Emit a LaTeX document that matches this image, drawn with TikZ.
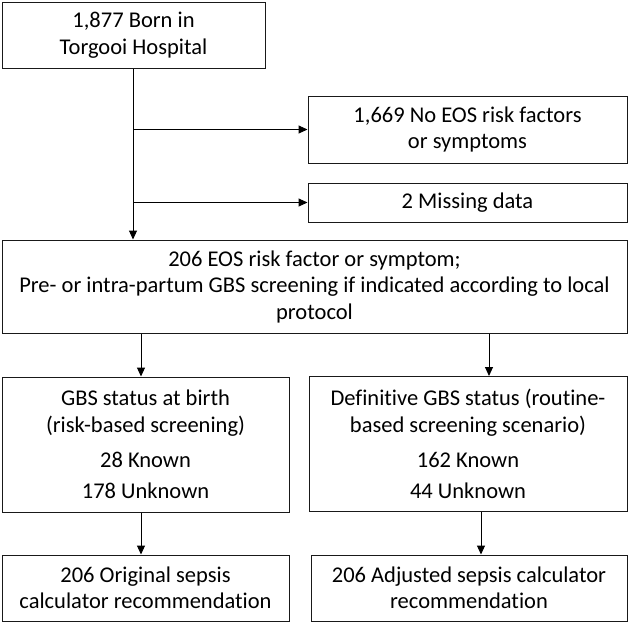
\documentclass[tikz,border=0pt]{standalone}
\usepackage{fontspec}
\setmainfont{Carlito}[Ligatures=NoCommon]
\usetikzlibrary{arrows.meta, positioning, calc}
\tikzset{
  fbox/.style={
    rectangle, draw=black!90, line width=1pt, fill=white, align=center,
    inner sep=0pt, font=\fontsize{22.5}{26.5}\selectfont},
  farr/.style={-{Triangle[length=9pt,width=8pt]}, line width=1pt, draw=black},
}

\begin{document}
\begin{tikzpicture}[x=1pt, y=-1pt]
  \useasboundingbox (0,0) rectangle (629,622);
  %% Top: births
  \node[fbox, minimum width=263pt, minimum height=66pt] (born) at (133.5,35)
        {1,877 Born in\\Torgooi Hospital};
  %% Exclusions
  \node[fbox, minimum width=319pt, minimum height=67pt] (nors) at (467.5,129.5)
        {1,669 No EOS risk factors\\or symptoms};
  \node[fbox, minimum width=319pt, minimum height=39pt] (miss) at (467.5,202.5)
        {2 Missing data};
  %% Included
  \node[fbox, minimum width=625pt, minimum height=93pt] (eos) at (314.5,286.5)
        {206 EOS risk factor or symptom;\\
         Pre- or intra-partum GBS screening if indicated according to local\\
         protocol};
  %% GBS status
  \node[fbox, minimum width=287pt, minimum height=135pt] (gbsb) at (145.5,444.5)
        {GBS status at birth\\(risk-based screening)\\[9pt]
         28 Known\\[4pt]178 Unknown};
  \node[fbox, minimum width=318pt, minimum height=135pt] (gbsd) at (468,444)
        {Definitive GBS status (routine-\\based screening scenario)\\[9pt]
         162 Known\\[4pt]44 Unknown};
  %% Calculator
  \node[fbox, minimum width=287pt, minimum height=66pt] (orig) at (145.5,588)
        {206 Original sepsis\\calculator recommendation};
  \node[fbox, minimum width=316pt, minimum height=66pt] (adj) at (469,588)
        {206 Adjusted sepsis calculator\\recommendation};
  %% Arrows
  \draw[farr] ([xshift=-0.5pt]born.south) -- ([xshift=-0.5pt]born.south |- eos.north);
  \draw[farr] ([xshift=-0.5pt]born.south |- nors.west) -- (nors.west);
  \draw[farr] ([xshift=-0.5pt]born.south |- miss.west) -- (miss.west);
  \draw[farr] ([xshift=-4.5pt]gbsb.north |- eos.south) -- ([xshift=-4.5pt]gbsb.north);
  \draw[farr] ([xshift=21pt]gbsd.north |- eos.south) -- ([xshift=21pt]gbsd.north);
  \draw[farr] ([xshift=-4.5pt]gbsb.south) -- ([xshift=-4.5pt]gbsb.south |- orig.north);
  \draw[farr] ([xshift=13pt]gbsd.south) -- ([xshift=13pt]gbsd.south |- adj.north);
\end{tikzpicture}
\end{document}
